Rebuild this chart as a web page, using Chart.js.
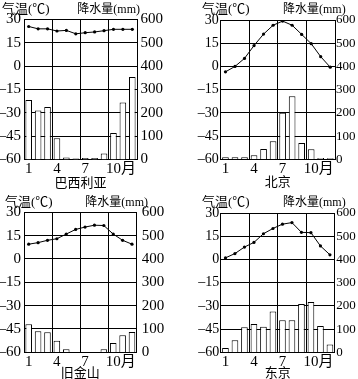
<!DOCTYPE html>
<html><head><meta charset="utf-8">
<script src="https://cdn.jsdelivr.net/npm/chart.js@4.4.1/dist/chart.umd.min.js"></script>
<style>
html,body{margin:0;padding:0;background:#fff;}
#wrap{position:relative;width:358px;height:379px;overflow:hidden;}
.p{position:absolute;}
</style></head><body>
<div id="wrap">
<div class="p" style="left:0;top:0;width:179px;height:189px"><canvas id="c1"></canvas></div>
<div class="p" style="left:179px;top:0;width:179px;height:189px"><canvas id="c2"></canvas></div>
<div class="p" style="left:0;top:189px;width:179px;height:190px"><canvas id="c3"></canvas></div>
<div class="p" style="left:179px;top:189px;width:179px;height:190px"><canvas id="c4"></canvas></div>
</div>
<script>
// ---- data ----
const monthTicks = ['1','','','4','','','7','','','10月','',''];
const tempTicks = [-60,-45,-30,-15,0,15,30];
const precipTicks = [0,100,200,300,400,500,600];
const tempTitle = '气温(℃)';
const precipTitle = '降水量(mm)';

const brasiliaTemp   = [25.5, 24, 24, 22.6, 23, 20.8, 21.5, 22, 22.8, 23.7, 23.7, 23.7];
const brasiliaPrecip = [255, 210, 225, 91, 9, 4, 6, 6, 26, 114, 244, 354];
const beijingTemp    = [-3.5, 0, 5.2, 13.5, 20.9, 26.6, 29.3, 26.6, 20.7, 14.7, 6.3, -0.5];
const beijingPrecip  = [9, 9, 9, 17, 44, 78, 200, 272, 70, 43, 6, 5];
const sfTemp         = [9.5, 10.5, 12, 13, 16, 19, 20.5, 21.7, 21.5, 16, 12, 9.5];
const sfPrecip       = [120, 90, 86, 50, 13, 0, 0, 0, 13, 40, 73, 87];
const tokyoTemp      = [1, 3.8, 8, 11, 16.6, 20, 22.8, 23.8, 17.5, 17.3, 8.7, 3];
const tokyoPrecip    = [19, 52, 108, 122, 110, 176, 138, 138, 208, 217, 113, 34];

const SERIF = '"Liberation Serif", "Noto Sans CJK SC", serif';

const panelText = {
  id: 'panelText',
  afterDraw(chart, args, o) {
    const ctx = chart.ctx, a = chart.chartArea, xs = chart.scales.x;
    ctx.save();
    ctx.fillStyle = '#000';
    ctx.font = o.tickSize + 'px ' + SERIF;
    ctx.textBaseline = 'alphabetic';
    ctx.textAlign = 'left';
    chart.data.labels.forEach((lab, i) => {
      if (!lab) return;
      const num = lab.replace('月', '');
      const w = ctx.measureText(num).width;
      ctx.fillText(lab, xs.getPixelForValue(i) - w / 2, a.bottom + o.tickGap);
    });
    ctx.font = o.citySize + 'px "Noto Sans CJK SC", sans-serif';
    ctx.textAlign = 'center';
    ctx.fillText(o.city, (a.left + a.right) / 2, a.bottom + o.cityGap);
    ctx.textAlign = 'left';
    ctx.font = '13px ' + SERIF;
    ctx.fillText(tempTitle, o.tX, o.hY);
    ctx.textAlign = 'right';
    ctx.font = '12px ' + SERIF;
    ctx.fillText(precipTitle, o.pX, o.hY);
    ctx.restore();
  }
};

function makeChart(id, temp, precip, cfg) {
  const W = cfg.W, H = cfg.H;
  return new Chart(document.getElementById(id), {
    data: {
      labels: monthTicks,
      datasets: [
        { type: 'line', data: temp, yAxisID: 'y', order: 0,
          borderColor: '#000', borderWidth: 1, tension: 0,
          pointRadius: 1.6, pointBorderWidth: 0, pointBackgroundColor: '#000' },
        { type: 'bar', data: precip, yAxisID: 'y1', order: 1,
          backgroundColor: '#fff', borderColor: '#000', borderWidth: 1,
          categoryPercentage: 1, barPercentage: 0.7 }
      ]
    },
    options: {
      responsive: true, maintainAspectRatio: false, animation: false, events: [],
      layout: { padding: { top: cfg.top, left: 0, right: 0, bottom: 0 } },
      plugins: { legend: { display: false }, tooltip: { enabled: false },
        panelText: cfg.text },
      scales: {
        x: { type: 'category', offset: true,
          grid: { offset: true, drawTicks: false, lineWidth: 1,
            color: c => (c.index === 3 || c.index === 6 || c.index === 9) ? '#000' : 'rgba(0,0,0,0)' },
          border: { display: true, color: '#000', width: 1 },
          ticks: { display: false },
          afterFit: s => { s.height = H - cfg.bottom; } },
        y: { position: 'left', min: -60, max: 30,
          afterBuildTicks: s => { s.ticks = tempTicks.map(v => ({ value: v })); },
          grid: { color: '#000', lineWidth: 1, drawTicks: false },
          border: { display: true, color: '#000', width: 1 },
          ticks: { color: '#000', padding: cfg.lPad, font: { family: SERIF, size: cfg.lFont },
            callback: v => String(v).replace('-', '–') },
          afterFit: s => { s.width = cfg.left; } },
        y1: { position: 'right', min: 0, max: 600,
          afterBuildTicks: s => { s.ticks = precipTicks.map(v => ({ value: v })); },
          grid: { display: false, drawTicks: false },
          border: { display: true, color: '#000', width: 1 },
          ticks: { color: '#000', padding: cfg.rPad, font: { family: SERIF, size: cfg.rFont } },
          afterFit: s => { s.width = W - cfg.right; } }
      }
    },
    plugins: [panelText]
  });
}

makeChart('c1', brasiliaTemp, brasiliaPrecip, { W: 179, H: 189, left: 24, right: 137, top: 19.5, bottom: 159.5,
  lPad: 3, rPad: 3.5, lFont: 15, rFont: 15,
  text: { city: '巴西利亚', tickSize: 15, citySize: 13, tickGap: 13.5, cityGap: 27, tX: 2, pX: 140, hY: 13 } });
makeChart('c2', beijingTemp, beijingPrecip, { W: 179, H: 189, left: 41.7, right: 156, top: 20, bottom: 159.3,
  lPad: 2, rPad: 1, lFont: 14, rFont: 13,
  text: { city: '北京', tickSize: 15, citySize: 13, tickGap: 13.5, cityGap: 27, tX: 23, pX: 166.7, hY: 13 } });
makeChart('c3', sfTemp, sfPrecip, { W: 179, H: 190, left: 24, right: 136.7, top: 23.3, bottom: 163.3,
  lPad: 3, rPad: 5, lFont: 15, rFont: 15,
  text: { city: '旧金山', tickSize: 15, citySize: 13, tickGap: 13.5, cityGap: 24.5, tX: 5, pX: 148, hY: 17 } });
makeChart('c4', tokyoTemp, tokyoPrecip, { W: 179, H: 190, left: 41.7, right: 155.7, top: 24, bottom: 163.3,
  lPad: 1.5, rPad: 1.5, lFont: 14, rFont: 13,
  text: { city: '东京', tickSize: 15, citySize: 13, tickGap: 13.5, cityGap: 24.5, tX: 23, pX: 166.7, hY: 17 } });
</script>
</body></html>
